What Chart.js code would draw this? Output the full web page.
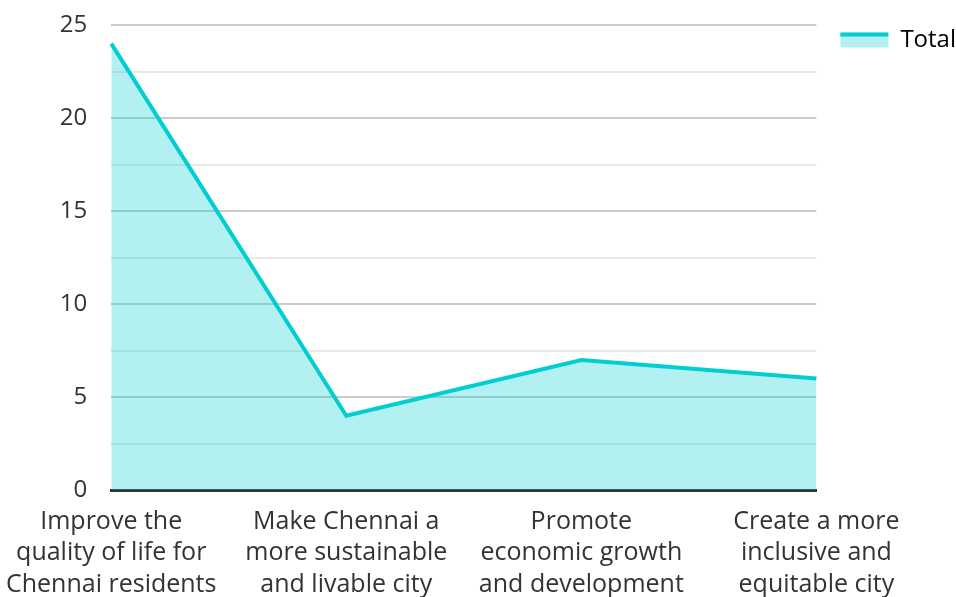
<!DOCTYPE html>
<html>
<head>
<meta charset="utf-8">
<script src="https://cdn.jsdelivr.net/npm/chart.js@4"></script>
<style>
  html, body { margin: 0; padding: 0; background: #fff; }
  #wrap { width: 956px; height: 597px; }
</style>
</head>
<body>
<div id="wrap"><canvas id="myChart"></canvas></div>
<script>
const categories = [
  ["Improve the", "quality of life for", "Chennai residents"],
  ["Make Chennai a", "more sustainable", "and livable city"],
  ["Promote", "economic growth", "and development"],
  ["Create a more", "inclusive and", "equitable city"]
];
const totalValues = [24, 4, 7, 6];
const seriesName = "Total";

Chart.defaults.font.family = "'Open Sans', 'Noto Sans', sans-serif";
Chart.defaults.color = "#333";

// draw the thick top edge of the legend swatch
const legendLine = {
  id: "legendLine",
  afterDraw(chart) {
    const lg = chart.legend;
    if (!lg || !lg.legendHitBoxes) return;
    const ctx = chart.ctx;
    lg.legendHitBoxes.forEach(function (hb) {
      const bw = lg.options.labels.boxWidth;
      const bh = lg.options.labels.boxHeight;
      const top = hb.top + (hb.height - bh) / 2;
      ctx.save();
      ctx.fillStyle = "#00CED1";
      ctx.fillRect(hb.left, top, bw, 4);
      ctx.restore();
    });
  }
};

new Chart("myChart", {
  type: "line",
  data: {
    labels: categories,
    datasets: [{
      label: seriesName,
      data: totalValues,
      borderColor: "#00CED1",
      backgroundColor: "rgba(0,206,209,0.3)",
      borderWidth: 4,
      fill: "origin",
      pointRadius: 0,
      tension: 0
    }]
  },
  options: {
    responsive: true,
    maintainAspectRatio: false,
    animation: false,
    layout: { padding: { top: 4, right: -10, left: 6, bottom: 0 } },
    plugins: {
      legend: {
        position: "right",
        align: "start",
        labels: {
          boxWidth: 48,
          boxHeight: 15,
          padding: 24,
          font: { size: 24 },
          color: "#222",
          generateLabels(chart) {
            return [{
              text: seriesName,
              fillStyle: "rgba(0,206,209,0.3)",
              strokeStyle: "rgba(0,0,0,0)",
              lineWidth: 0,
              datasetIndex: 0
            }];
          }
        }
      },
      tooltip: { enabled: false }
    },
    scales: {
      x: {
        offset: false,
        afterFit: function (scale) { scale.height -= 9; },
        grid: { display: false, drawTicks: true, tickLength: 10 },
        border: { display: true, color: "#333", width: 3 },
        ticks: {
          maxRotation: 0,
          autoSkip: false,
          font: { size: 25, lineHeight: 1.25 },
          color: "#333",
          padding: 6
        }
      },
      y: {
        min: 0,
        max: 25,
        afterFit: function (scale) { scale.paddingTop = 25; },
        grid: {
          drawTicks: false,
          lineWidth: 2,
          color: function (ctx) {
            if (!ctx.tick) return "#ccc";
            return ctx.tick.value % 5 === 0 ? "#cccccc" : "#e8e8e8";
          }
        },
        border: { display: false },
        ticks: {
          stepSize: 2.5,
          padding: 24,
          font: { size: 24 },
          color: "#333",
          callback: function (v) { return v % 5 === 0 ? v : ""; }
        }
      }
    }
  },
  plugins: [legendLine]
});
</script>
</body>
</html>
